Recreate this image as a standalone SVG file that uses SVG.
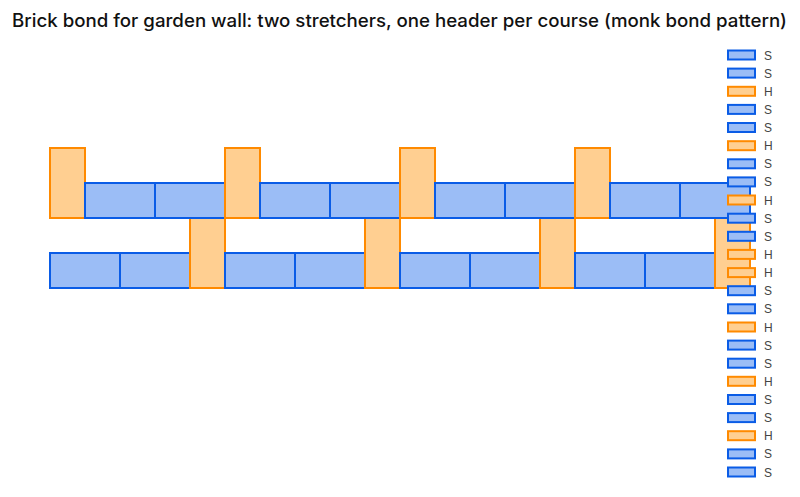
<svg xmlns="http://www.w3.org/2000/svg" width="800" height="497" viewBox="0 0 800 497">
<style>
.s{fill:#9bbdf6;stroke:#0a5ce6;stroke-width:2}
.h{fill:#ffcf91;stroke:#ff8a00;stroke-width:2}
.t{font-family:Inter,"Liberation Sans",sans-serif;font-size:18px;font-weight:500;fill:#111}
.l{font-family:"Liberation Sans",Arial,sans-serif;font-size:12px;fill:#444}
</style>
<rect width="800" height="497" fill="#fff"/>
<text class="t" x="12" y="27" textLength="775" lengthAdjust="spacingAndGlyphs">Brick bond for garden wall: two stretchers, one header per course (monk bond pattern)</text>
<g id="course2">
<rect class="s" x="50" y="253" width="70" height="35"/>
<rect class="s" x="120" y="253" width="70" height="35"/>
<rect class="h" x="190" y="218" width="35" height="70"/>
<rect class="s" x="225" y="253" width="70" height="35"/>
<rect class="s" x="295" y="253" width="70" height="35"/>
<rect class="h" x="365" y="218" width="35" height="70"/>
<rect class="s" x="400" y="253" width="70" height="35"/>
<rect class="s" x="470" y="253" width="70" height="35"/>
<rect class="h" x="540" y="218" width="35" height="70"/>
<rect class="s" x="575" y="253" width="70" height="35"/>
<rect class="s" x="645" y="253" width="70" height="35"/>
<rect class="h" x="715" y="218" width="35" height="70"/>
</g>
<g id="course1">
<rect class="h" x="50" y="148" width="35" height="70"/>
<rect class="s" x="85" y="183" width="70" height="35"/>
<rect class="s" x="155" y="183" width="70" height="35"/>
<rect class="h" x="225" y="148" width="35" height="70"/>
<rect class="s" x="260" y="183" width="70" height="35"/>
<rect class="s" x="330" y="183" width="70" height="35"/>
<rect class="h" x="400" y="148" width="35" height="70"/>
<rect class="s" x="435" y="183" width="70" height="35"/>
<rect class="s" x="505" y="183" width="70" height="35"/>
<rect class="h" x="575" y="148" width="35" height="70"/>
<rect class="s" x="610" y="183" width="70" height="35"/>
<rect class="s" x="680" y="183" width="70" height="35"/>
</g>
<g id="legend">
<rect class="s" x="728" y="50.5" width="27" height="9"/><text class="l" x="764" y="59.5">S</text>
<rect class="s" x="728" y="68.6" width="27" height="9"/><text class="l" x="764" y="77.6">S</text>
<rect class="h" x="728" y="86.8" width="27" height="9"/><text class="l" x="764" y="95.8">H</text>
<rect class="s" x="728" y="104.9" width="27" height="9"/><text class="l" x="764" y="113.9">S</text>
<rect class="s" x="728" y="123" width="27" height="9"/><text class="l" x="764" y="132">S</text>
<rect class="h" x="728" y="141.2" width="27" height="9"/><text class="l" x="764" y="150.2">H</text>
<rect class="s" x="728" y="159.3" width="27" height="9"/><text class="l" x="764" y="168.3">S</text>
<rect class="s" x="728" y="177.4" width="27" height="9"/><text class="l" x="764" y="186.4">S</text>
<rect class="h" x="728" y="195.5" width="27" height="9"/><text class="l" x="764" y="204.5">H</text>
<rect class="s" x="728" y="213.7" width="27" height="9"/><text class="l" x="764" y="222.7">S</text>
<rect class="s" x="728" y="231.8" width="27" height="9"/><text class="l" x="764" y="240.8">S</text>
<rect class="h" x="728" y="249.9" width="27" height="9"/><text class="l" x="764" y="258.9">H</text>
<rect class="h" x="728" y="268.1" width="27" height="9"/><text class="l" x="764" y="277.1">H</text>
<rect class="s" x="728" y="286.2" width="27" height="9"/><text class="l" x="764" y="295.2">S</text>
<rect class="s" x="728" y="304.3" width="27" height="9"/><text class="l" x="764" y="313.3">S</text>
<rect class="h" x="728" y="322.5" width="27" height="9"/><text class="l" x="764" y="331.5">H</text>
<rect class="s" x="728" y="340.6" width="27" height="9"/><text class="l" x="764" y="349.6">S</text>
<rect class="s" x="728" y="358.7" width="27" height="9"/><text class="l" x="764" y="367.7">S</text>
<rect class="h" x="728" y="376.8" width="27" height="9"/><text class="l" x="764" y="385.8">H</text>
<rect class="s" x="728" y="395" width="27" height="9"/><text class="l" x="764" y="404">S</text>
<rect class="s" x="728" y="413.1" width="27" height="9"/><text class="l" x="764" y="422.1">S</text>
<rect class="h" x="728" y="431.2" width="27" height="9"/><text class="l" x="764" y="440.2">H</text>
<rect class="s" x="728" y="449.4" width="27" height="9"/><text class="l" x="764" y="458.4">S</text>
<rect class="s" x="728" y="467.5" width="27" height="9"/><text class="l" x="764" y="476.5">S</text>
</g>
</svg>
